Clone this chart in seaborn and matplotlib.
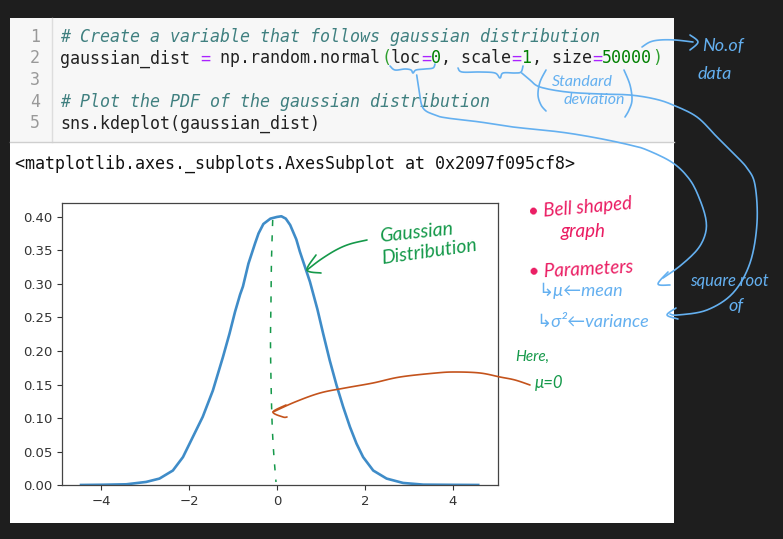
import numpy as np
import pandas as pd
import matplotlib
matplotlib.use("Agg")
import matplotlib.pyplot as plt
from matplotlib.patches import Rectangle
import seaborn as sns

# ---------------- data ----------------
kde_x = [-4.46, -4.0, -3.43, -2.98, -2.675, -2.37, -2.14, -1.915, -1.69, -1.46,
         -1.23, -1.08, -0.956, -0.84, -0.775, -0.65, -0.50, -0.42, -0.31, -0.15,
         0.0, 0.10, 0.20, 0.30, 0.44, 0.52, 0.75, 0.92, 1.05, 1.20,
         1.355, 1.505, 1.66, 1.81, 1.96, 2.19, 2.495, 2.87, 3.33, 4.0, 4.58]
kde_y = [0.0005, 0.0008, 0.0015, 0.005, 0.010, 0.022, 0.042, 0.072, 0.102, 0.141,
         0.191, 0.226, 0.258, 0.284, 0.296, 0.330, 0.360, 0.375, 0.389, 0.397,
         0.3995, 0.4005, 0.397, 0.3875, 0.366, 0.348, 0.303, 0.262, 0.226, 0.186,
         0.149, 0.117, 0.087, 0.062, 0.042, 0.022, 0.010, 0.0035, 0.001, 0.0007, 0.0005]
x_ticks = [-4, -2, 0, 2, 4]
y_ticks = [0.00, 0.05, 0.10, 0.15, 0.20, 0.25, 0.30, 0.35, 0.40]

code_lines = [
    [("# Create a variable that follows gaussian distribution", "comment")],
    [("gaussian_dist ", "plain"), ("=", "op"), (" np.random.normal", "plain"), ("(", "br"),
     ("loc", "plain"), ("=", "op"), ("0", "num"), (", scale", "plain"), ("=", "op"),
     ("1", "num"), (", size", "plain"), ("=", "op"), ("50000", "num"), (")", "br")],
    [],
    [("# Plot the PDF of the gaussian distribution", "comment")],
    [("sns.kdeplot(gaussian_dist)", "plain")],
]
output_text = "<matplotlib.axes._subplots.AxesSubplot at 0x2097f095cf8>"

# ---------------- figure ----------------
W, H = 783, 539
fig = plt.figure(figsize=(W / 100, H / 100), dpi=100, facecolor="#1e1e1e")

bg = fig.add_axes([0, 0, 1, 1], zorder=0)
bg.set_xlim(0, W); bg.set_ylim(H, 0); bg.axis("off")
bg.add_patch(Rectangle((10, 18.3), 664, 124, facecolor="#f7f7f7", edgecolor="none"))
bg.add_patch(Rectangle((10, 142.3), 664, 380.4, facecolor="white", edgecolor="none"))
bg.plot([51.7, 51.7], [18.3, 142.3], color="#dddddd", lw=1)
bg.plot([10, 674], [142.3, 142.3], color="#cfcfcf", lw=1)

colors = {"comment": "#408080", "plain": "#222222", "op": "#aa22ff",
          "num": "#008000", "br": "#2e9e2e"}
cw = 0.602 * 12 * 100 / 72
baselines = [41.7, 63.3, 85.0, 106.7, 128.3]
for i, (segs, yb) in enumerate(zip(code_lines, baselines)):
    bg.text(40, yb, str(i + 1), ha="right", va="baseline", color="#999999",
            fontsize=12, family="DejaVu Sans Mono")
    n = 0
    for txt, kind in segs:
        bg.text(60 + n * cw, yb, txt, ha="left", va="baseline", color=colors[kind],
                fontsize=12, family="DejaVu Sans Mono",
                style="italic" if kind == "comment" else "normal")
        n += len(txt)
bg.text(15, 168.3, output_text, ha="left", va="baseline", color="#111111",
        fontsize=12, family="DejaVu Sans Mono")

# ---------------- main chart ----------------
l, r, t, b = 61.7, 498, 202.7, 485.3
ax = fig.add_axes([l / W, 1 - b / H, (r - l) / W, (b - t) / H], zorder=1)
ax.set_facecolor("white")
df = pd.DataFrame({"x": kde_x, "density": kde_y})
sns.lineplot(data=df, x="x", y="density", ax=ax, color="#3f8cc8", lw=1.9)
ax.set_xlim(-4.9, 5.03)
ax.set_ylim(0, 0.4207)
ax.set_xticks(x_ticks)
ax.set_yticks(y_ticks)
ax.set_yticklabels([f"{v:.2f}" for v in y_ticks])
ax.set_xlabel(""); ax.set_ylabel("")
ax.tick_params(labelsize=9.5, colors="#333333", length=3.3, width=0.8)
for s in ax.spines.values():
    s.set_color("#444444"); s.set_linewidth(0.9)

# ---------------- hand-drawn annotations ----------------
ov = fig.add_axes([0, 0, 1, 1], zorder=3)
ov.set_xlim(0, W); ov.set_ylim(H, 0); ov.axis("off"); ov.patch.set_alpha(0)

def smooth(pts, n=8):
    P = np.asarray(pts, float)
    P = np.vstack([P[0], P, P[-1]])
    out = []
    for i in range(1, len(P) - 2):
        p0, p1, p2, p3 = P[i - 1], P[i], P[i + 1], P[i + 2]
        for tt in np.linspace(0, 1, n, endpoint=False):
            t2, t3 = tt * tt, tt * tt * tt
            out.append(0.5 * (2 * p1 + (-p0 + p2) * tt + (2 * p0 - 5 * p1 + 4 * p2 - p3) * t2
                              + (-p0 + 3 * p1 - 3 * p2 + p3) * t3))
    out.append(P[-2])
    return np.array(out)

def stroke(pts, color, lw=1.2, **kw):
    s = smooth(pts)
    ov.plot(s[:, 0], s[:, 1], color=color, lw=lw, solid_capstyle="round", **kw)

GREEN = "#15994a"; PINK = "#ea1c62"; BLUE = "#64b0f0"; ORANGE = "#c4531c"
hand = dict(family=["Lato", "DejaVu Sans"], style="italic")

# green dashed vertical
gd = smooth([(272.7, 220), (271.5, 260), (271, 300), (270.5, 340), (271, 380),
             (272, 420), (273.5, 450), (276, 482)])
ov.plot(gd[:, 0], gd[:, 1], color=GREEN, lw=1.1, dashes=(4, 6))

# gaussian label + arrow
ov.text(416, 233, "Gaussian", color=GREEN, fontsize=14, ha="center", va="center", rotation=6, **hand)
ov.text(429, 252, "Distribution", color=GREEN, fontsize=14, ha="center", va="center", rotation=8, **hand)
stroke([(367, 240), (350, 244), (336, 250), (320, 260), (307, 270)], GREEN)
stroke([(316, 255), (307, 270), (321, 273)], GREEN)

# orange arrow to mu
stroke([(530, 385), (515, 380), (500, 377), (480, 373), (455, 372), (436, 373), (400, 377),
        (373, 383), (345, 388), (320, 393), (295, 402), (273, 412)], ORANGE)
stroke([(286, 405), (273, 412), (283, 417), (287, 417)], ORANGE)

# right-hand notes
ov.text(528, 208, "• Bell shaped", color=PINK, fontsize=13.5, ha="left", va="center", rotation=5, **hand)
ov.text(583, 231, "graph", color=PINK, fontsize=13.5, ha="center", va="center", **hand)
ov.text(528, 270, "• Parameters", color=PINK, fontsize=13.5, ha="left", va="center", rotation=3, **hand)
ov.text(538, 291, "↳μ←mean", color=BLUE, fontsize=13, ha="left", va="center", **hand)
ov.text(536, 322, "↳σ²←variance", color=BLUE, fontsize=13, ha="left", va="center", **hand)
ov.text(515, 357, "Here,", color=GREEN, fontsize=11, ha="left", va="center", **hand)
ov.text(535, 383, "μ=0", color=GREEN, fontsize=12, ha="left", va="center", **hand)

# braces and curves from the code
stroke([(390, 66), (395, 70), (405, 69), (411, 70), (413, 73), (416, 70), (425, 69), (433, 68), (435, 64)], BLUE)
stroke([(458, 68), (462, 72), (480, 72), (495, 73), (500, 78), (503, 73), (515, 73), (521, 72), (523, 66)], BLUE)
stroke([(416.7, 75), (419, 90), (423, 108), (435, 115), (447, 118), (480, 122), (513, 127),
        (560, 132), (597, 138), (630, 145), (647, 150), (673, 163), (690, 180), (700, 200),
        (706, 220), (705, 235), (697, 250), (680, 266), (663, 278)], BLUE)
stroke([(668, 272), (658, 284), (670, 285)], BLUE)
stroke([(521.7, 73), (530, 80), (540, 87), (566.7, 92), (600, 94), (630, 95), (655, 99),
        (673, 105), (697, 117), (717, 137), (733, 153), (747, 168), (755, 185), (757, 223),
        (750, 263), (733, 293), (707, 310), (678, 315), (670, 314)], BLUE)
stroke([(676, 308), (667, 315), (678, 319)], BLUE)

# (Standard deviation)
stroke([(546, 70), (540, 82), (538, 95), (541, 105), (546, 111)], BLUE)
stroke([(624, 70), (630, 85), (632, 100), (629, 110), (625, 117)], BLUE)
ov.text(582, 82, "Standard", color=BLUE, fontsize=11.5, ha="center", va="center", **hand)
ov.text(594, 100, "deviation", color=BLUE, fontsize=11.5, ha="center", va="center", **hand)

# No. of data
stroke([(642, 47), (650, 42), (660, 40), (675, 40), (693, 42)], BLUE)
stroke([(690, 35), (698, 42), (690, 50)], BLUE)
ov.text(702, 46, "No.of", color=BLUE, fontsize=13, ha="left", va="center", **hand)
ov.text(697, 74, "data", color=BLUE, fontsize=13, ha="left", va="center", **hand)

# square root of
ov.text(690, 281, "square root", color=BLUE, fontsize=12, ha="left", va="center", **hand)
ov.text(736, 306, "of", color=BLUE, fontsize=13, ha="center", va="center", **hand)

fig.savefig("out.png", dpi=100, facecolor=fig.get_facecolor())
